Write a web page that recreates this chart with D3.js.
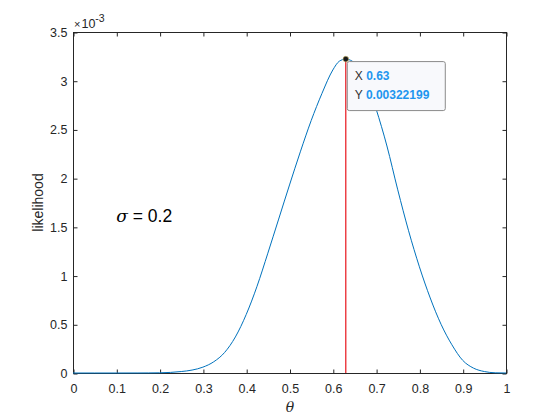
<!DOCTYPE html>
<html>
<head>
<meta charset="utf-8">
<script src="https://cdn.jsdelivr.net/npm/d3@7"></script>
<style>
  html, body { margin: 0; padding: 0; background: #fff; }
  svg { display: block; font-family: "Liberation Sans", Arial, Helvetica, sans-serif; }
</style>
</head>
<body>
<svg id="chart" width="560" height="420"></svg>
<script>
// ---- data ----
const thetaValues = [0, 0.05, 0.1, 0.15, 0.175, 0.2, 0.225, 0.25, 0.275, 0.3, 0.325, 0.35, 0.375, 0.4, 0.425, 0.45, 0.475, 0.5, 0.525, 0.55, 0.575, 0.6, 0.615, 0.63, 0.645, 0.66, 0.675, 0.7, 0.725, 0.75, 0.775, 0.8, 0.825, 0.85, 0.875, 0.9, 0.925, 0.95, 0.975, 1];
const likelihoodValues = [0, 0, 0, 0.0000003, 0.0000008, 0.000002, 0.000006, 0.000015, 0.00003, 0.00006, 0.000115, 0.00021, 0.00037, 0.0006, 0.00089, 0.00123, 0.00158, 0.00193, 0.00227, 0.00259, 0.00287, 0.00311, 0.0032, 0.00322199, 0.0032, 0.00314, 0.00303, 0.00271, 0.00233, 0.00188, 0.00146, 0.00109, 0.00077, 0.0005, 0.00029, 0.00013, 0.00005, 0.000015, 0.000002, 0];
const xTicks = [0, 0.1, 0.2, 0.3, 0.4, 0.5, 0.6, 0.7, 0.8, 0.9, 1];
const xTickLabels = ["0", "0.1", "0.2", "0.3", "0.4", "0.5", "0.6", "0.7", "0.8", "0.9", "1"];
const yTicks = [0, 0.0005, 0.001, 0.0015, 0.002, 0.0025, 0.003, 0.0035];
const yTickLabels = ["0", "0.5", "1", "1.5", "2", "2.5", "3", "3.5"];
const peakTheta = 0.63;
const peakLikelihood = 0.00322199;
const annotationPos = [0.1, 0.0016];
const annotationValue = "0.2";

// ---- layout ----
const svg = d3.select("#chart");
const L = 73, R = 506, T = 32, B = 373;
const x = d3.scaleLinear().domain([0, 1]).range([L, R]);
const y = d3.scaleLinear().domain([0, 0.0035]).range([B, T]);
const axisColor = "#262626";
const tickLen = 4;
const tickFont = "12.5px";

// box
svg.append("rect").attr("x", L + 0.5).attr("y", T + 0.5)
  .attr("width", R - L).attr("height", B - T)
  .attr("fill", "none").attr("stroke", axisColor).attr("stroke-width", 1);

function styleAxis(g) {
  g.select(".domain").remove();
  g.selectAll(".tick line").attr("stroke", axisColor).attr("stroke-width", 1);
  g.selectAll(".tick text").attr("fill", axisColor).style("font-size", tickFont)
    .style("font-family", '"Liberation Sans", Arial, sans-serif');
}

// bottom axis
svg.append("g").attr("transform", `translate(0.5,${B + 0.5})`)
  .call(d3.axisBottom(x).tickValues(xTicks).tickSize(-tickLen).tickPadding(11)
    .tickFormat((d, i) => xTickLabels[i]))
  .call(styleAxis);
// top axis ticks
svg.append("g").attr("transform", `translate(0.5,${T + 0.5})`)
  .call(d3.axisTop(x).tickValues(xTicks).tickSize(-tickLen).tickFormat(""))
  .call(styleAxis);
// left axis
svg.append("g").attr("transform", `translate(${L + 0.5},0.5)`)
  .call(d3.axisLeft(y).tickValues(yTicks).tickSize(-tickLen).tickPadding(6)
    .tickFormat((d, i) => yTickLabels[i]))
  .call(styleAxis);
// right axis ticks
svg.append("g").attr("transform", `translate(${R + 0.5},0.5)`)
  .call(d3.axisRight(y).tickValues(yTicks).tickSize(-tickLen).tickFormat(""))
  .call(styleAxis);

// exponent label
const exp = svg.append("text").attr("x", 74).attr("y", 28)
  .attr("fill", axisColor).style("font-size", "12.5px");
exp.append("tspan").text("\u00D7").style("font-size", "11px");
exp.append("tspan").text("10").attr("dx", 1);
exp.append("tspan").text("-3").attr("dy", -6).style("font-size", "10.5px");

// axis labels
svg.append("text").attr("x", (L + R) / 2 + 0.5).attr("y", 412)
  .attr("text-anchor", "middle").attr("fill", axisColor)
  .style("font-size", "14px").style("font-style", "italic")
  .style("font-family", '"DejaVu Serif", "Liberation Serif", serif')
  .text("\u03B8");
svg.append("text")
  .attr("transform", `translate(43,${(T + B) / 2}) rotate(-90)`)
  .attr("text-anchor", "middle").attr("fill", axisColor)
  .style("font-size", "14px").text("likelihood");

// curve
const data = thetaValues.map((t, i) => [t, likelihoodValues[i]]);
svg.append("path").datum(data)
  .attr("fill", "none").attr("stroke", "#0072BD").attr("stroke-width", 1)
  .attr("d", d3.line().x(d => x(d[0])).y(d => y(d[1])).curve(d3.curveMonotoneX));

// red vertical line at peak
svg.append("line")
  .attr("x1", x(peakTheta)).attr("x2", x(peakTheta))
  .attr("y1", y(0)).attr("y2", y(peakLikelihood))
  .attr("stroke", "#e8141c").attr("stroke-width", 1.2);

// annotation sigma
const ann = svg.append("text").attr("x", x(annotationPos[0])).attr("y", y(annotationPos[1]))
  .attr("dominant-baseline", "middle").attr("fill", "#000").style("font-size", "17.5px");
ann.append("tspan").text("\u03C3").style("font-style", "italic")
  .style("font-family", '"DejaVu Serif", "Liberation Serif", serif').style("font-size", "17px");
ann.append("tspan").text(" = " + annotationValue);

// datatip
const px = x(peakTheta), py = y(peakLikelihood);
const tip = svg.append("g");
tip.append("rect").attr("x", px + 1.5).attr("y", py + 2.5).attr("width", 98).attr("height", 49)
  .attr("rx", 2).attr("fill", "#f8f9fc").attr("stroke", "#8a8a8a").attr("stroke-width", 1);
const rows = [["X", String(peakTheta)], ["Y", String(peakLikelihood)]];
rows.forEach((r, i) => {
  const t = tip.append("text").attr("x", px + 9).attr("y", py + 21 + i * 18.5)
    .style("font-size", "12px");
  t.append("tspan").text(r[0] + " ").attr("fill", "#333");
  t.append("tspan").text(r[1]).attr("fill", "#1e96ef").style("font-weight", "bold");
});
svg.append("circle").attr("cx", px).attr("cy", py).attr("r", 2.8)
  .attr("fill", "#1a1a1a").attr("stroke", "#c9b96a").attr("stroke-width", 0.6);
</script>
</body>
</html>
